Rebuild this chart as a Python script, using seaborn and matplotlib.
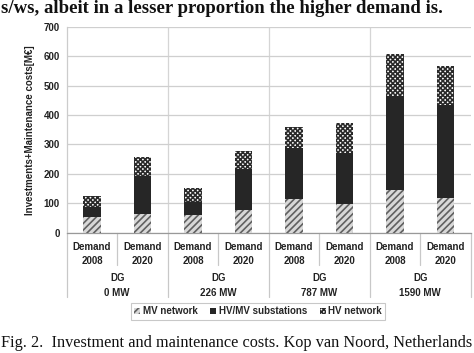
import matplotlib
matplotlib.use("Agg")
import matplotlib.pyplot as plt
import matplotlib.transforms as mtransforms
from matplotlib.patches import Patch
import seaborn as sns
import pandas as pd
import numpy as np

# ---- data ----
scenarios = ["DG\n0 MW", "DG\n226 MW", "DG\n787 MW", "DG\n1590 MW"]
demands = ["Demand\n2008", "Demand\n2020"]
mv_network = [55, 62, 60, 77, 114, 97, 145, 119]
hvmv_substations = [33, 132, 43, 141, 175, 173, 321, 314]
hv_network = [38, 64, 48, 60, 71, 102, 141, 135]
series_names = ["MV network", "HV/MV substations", "HV network"]
y_ticks = [0, 100, 200, 300, 400, 500, 600, 700]

sns.set_theme(style="white")
plt.rcParams["font.family"] = ["Liberation Sans", "DejaVu Sans"]
plt.rcParams["hatch.linewidth"] = 1.2

labels = [f"{s}|{d}" for s in scenarios for d in demands]
mv = np.array(mv_network)
hvmv = np.array(hvmv_substations)
hv = np.array(hv_network)
df = pd.DataFrame({
    "cat": labels,
    "mv": mv,
    "mv_hvmv": mv + hvmv,
    "total": mv + hvmv + hv,
})

fig = plt.figure(figsize=(4.74, 3.53), dpi=100)
ax = fig.add_axes([66.7 / 474, 1 - 232.7 / 353, 404 / 474, 206 / 353])

bw = 0.34
styles = {
    "total": dict(color="white", hatch="xxxxxxx", edgecolor="#2a2a2a"),
    "mv_hvmv": dict(color="#262626", hatch=None, edgecolor="#262626"),
    "mv": dict(color="#d8d8d8", hatch="/////", edgecolor="#606060"),
}
for col in ["total", "mv_hvmv", "mv"]:
    st = styles[col]
    sns.barplot(data=df, x="cat", y=col, ax=ax, width=bw, color=st["color"],
                hatch=st["hatch"], edgecolor=st["edgecolor"], linewidth=0,
                saturation=1, errorbar=None, zorder=3)

ax.set_ylim(0, 700)
ax.set_xlim(-0.5, 7.5)
ax.set_yticks(y_ticks)
ax.set_yticklabels([str(t) for t in y_ticks], fontsize=7, fontweight="bold", color="#222")
ax.yaxis.grid(True, color="#cfcfcf", linewidth=0.9, zorder=0)
for xv in [1.5, 3.5, 5.5]:
    ax.axvline(xv, color="#d5d5d5", linewidth=0.9, zorder=0)
for s in ["top", "right"]:
    ax.spines[s].set_visible(False)
ax.spines["left"].set_color("#cccccc")
ax.spines["left"].set_linewidth(0.9)
ax.spines["bottom"].set_color("#999999")
ax.spines["bottom"].set_linewidth(0.9)
ax.tick_params(axis="y", length=3, color="#bbb", pad=2)
ax.set_xlabel("")
ax.set_ylabel("Investments+Maintenance costs[M€]", fontsize=7, fontweight="bold",
              color="#222", labelpad=6)

ax.set_xticks(range(8))
ax.set_xticklabels([d for _ in scenarios for d in demands], fontsize=7,
                   fontweight="bold", color="#222", linespacing=1.5)
ax.tick_params(axis="x", length=0, pad=7)

trans = mtransforms.blended_transform_factory(ax.transData, ax.transAxes)
axh = 206.0
low = -(265 - 232.7) / axh
grp = -(297 - 232.7) / axh
for xv in [0.5, 2.5, 4.5, 6.5]:
    ax.plot([xv, xv], [0, low], transform=trans, color="#c8c8c8", lw=0.9, clip_on=False)
for xv in [-0.5, 1.5, 3.5, 5.5, 7.5]:
    ax.plot([xv, xv], [0, grp], transform=trans, color="#c8c8c8", lw=0.9, clip_on=False)
for i, s in enumerate(scenarios):
    ax.text(2 * i + 0.5, -(285.5 - 232.7) / axh, s, transform=trans, ha="center", va="center",
            fontsize=7, fontweight="bold", color="#222", linespacing=1.6)

handles = [
    Patch(facecolor="#d8d8d8", hatch="/////", edgecolor="#606060", linewidth=0),
    Patch(facecolor="#262626", edgecolor="#262626", linewidth=0),
    Patch(facecolor="white", hatch="xxxxxxx", edgecolor="#2a2a2a", linewidth=0),
]
leg = fig.legend(handles, series_names, loc="center", bbox_to_anchor=(258 / 474, 1 - 311.5 / 353),
                 ncol=3, frameon=True, fancybox=False, handlelength=0.6,
                 handleheight=0.6, handletextpad=0.3, columnspacing=1.3,
                 borderpad=0.35, prop={"weight": "bold", "size": 7})
leg.get_frame().set_edgecolor("#bbbbbb")
leg.get_frame().set_linewidth(0.8)

fig.text(0.003, 1.0, "s/ws, albeit in a lesser proportion the higher demand is.",
         ha="left", va="top", fontsize=13.5, fontweight="bold",
         family=["Liberation Serif", "DejaVu Serif"], color="#111")
fig.text(0.5, 1 - 343 / 353, "Fig. 2.  Investment and maintenance costs. Kop van Noord, Netherlands",
         ha="center", va="center", fontsize=11.7,
         family=["Liberation Serif", "DejaVu Serif"], color="#111")

fig.savefig("out.png", dpi=100)
